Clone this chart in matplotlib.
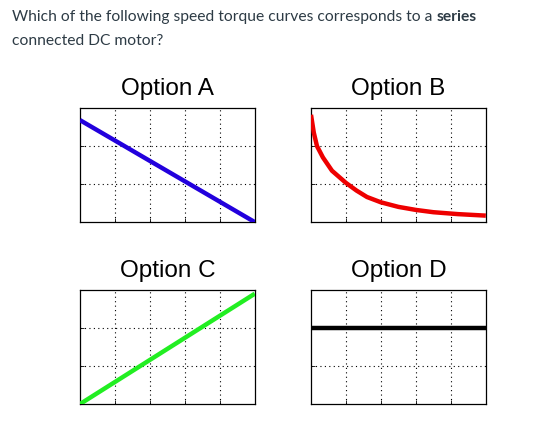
import numpy as np
import matplotlib.pyplot as plt

# data (torque on x, speed on y)
x_lin = [0, 5]
speed_a = [2.68, 0]
x_b = [0, 0.08, 0.17, 0.34, 0.6, 1.0, 1.3, 1.6, 2.0, 2.5, 3.0, 3.5, 4.2, 5.0]
speed_b = [2.82, 2.35, 2.0, 1.7, 1.35, 1.03, 0.83, 0.66, 0.52, 0.4, 0.32, 0.26, 0.21, 0.17]
speed_c = [0, 2.9]
speed_d = [2, 2]

titles = ['Option A', 'Option B', 'Option C', 'Option D']
colors = ['#2200dd', '#ee0000', '#22ee22', '#000000']
series = [(x_lin, speed_a), (x_b, speed_b), (x_lin, speed_c), (x_lin, speed_d)]

fig = plt.figure(figsize=(5.33, 4.46), dpi=100)
fig.patch.set_facecolor('white')

# axes boxes in figure fractions
lefts = [0.150, 0.5835, 0.150, 0.5835]
bottoms = [0.502, 0.502, 0.094, 0.094]
w, h = 0.328, 0.256

for i in range(4):
    ax = fig.add_axes([lefts[i], bottoms[i], w, h])
    xs, ys = series[i]
    ax.plot(xs, ys, color=colors[i], lw=3.2, solid_capstyle='butt', zorder=3)
    ax.set_xlim(0, 5)
    ax.set_ylim(0, 3)
    ax.set_xticks([1, 2, 3, 4])
    ax.set_yticks([1, 2])
    ax.tick_params(direction='in', length=3, width=0.6, labelbottom=False, labelleft=False)
    ax.grid(True, color='black', linestyle=(0, (1, 3)), linewidth=0.8)
    for s in ax.spines.values():
        s.set_linewidth(0.9)
    ax.set_title(titles[i], fontsize=17.5, family='Liberation Sans', pad=9)

# question text on top
txt_color = '#2d3b45'
t1 = fig.text(12 / 533, 1 - 21 / 446, 'Which of the following speed torque curves corresponds to a ',
              fontsize=11.25, family='Lato', color=txt_color, va='baseline')
fig.canvas.draw()
bb = t1.get_window_extent()
fig.text(bb.x1 / fig.bbox.width, 1 - 21 / 446, 'series', fontsize=11.25, family='Lato',
         weight='bold', color=txt_color, va='baseline')
fig.text(12 / 533, 1 - 45 / 446, 'connected DC motor?', fontsize=11.25, family='Lato',
         color=txt_color, va='baseline')

fig.savefig('out.png', dpi=100)
